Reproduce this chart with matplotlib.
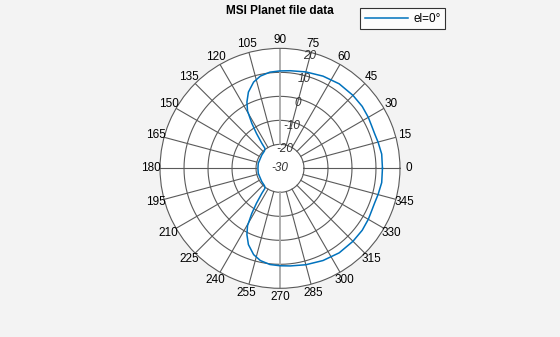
import numpy as np
import matplotlib
matplotlib.use("Agg")
import matplotlib.pyplot as plt

# pattern (dB vs azimuth, degrees)
azimuth_deg = [0, 8, 15, 20, 25, 30, 37, 45, 55, 65, 75, 84, 90, 96, 102, 107,
               112.5, 116.5, 119.5, 122, 124, 126, 127, 132, 144, 167, 180,
               193, 216, 228, 233, 234, 236, 238, 240.5, 243.5, 247.5, 253, 258, 264,
               270, 276, 285, 295, 305, 315, 323, 330, 335, 340, 345, 352, 360]
gain_db = [12.7, 12.8, 12.3, 12.0, 12.1, 12.5, 12.9, 13.0, 13.0, 12.4, 11.6, 10.9, 10.6, 10.3, 9.3, 7.6,
           4.4, 0.9, -2.5, -7.8, -12.5, -17.1, -19.6, -20.3, -20.6, -20.7, -20.8,
           -20.7, -20.6, -20.3, -19.6, -17.1, -12.5, -7.8, -2.5, 0.9, 4.4, 7.6, 9.3, 10.3,
           10.6, 10.9, 11.6, 12.4, 13.0, 13.0, 12.9, 12.5, 12.1, 12.0, 12.3, 12.8, 12.7]

r_min, r_max = -30, 20
ring_values = [-20, -10, 0, 10, 20]
ring_labels = ["-30", "-20", "-10", "0", "10", "20"]
angle_ticks = list(range(0, 360, 15))
legend_label = "el=0°"
title = "MSI Planet file data"

plt.rcParams["font.family"] = ["Liberation Sans", "DejaVu Sans"]

fig = plt.figure(figsize=(5.6, 3.37), dpi=100)
fig.patch.set_facecolor("#f3f3f3")
ax = fig.add_axes([0.2857, 0.1445, 0.4286, 0.712], projection="polar")
ax.set_facecolor("white")
ax.set_ylim(r_min, r_max)
ax.grid(False)
ax.set_xticks([])
ax.set_yticks([])
ax.spines["polar"].set_color("#5a5a5a")
ax.spines["polar"].set_linewidth(0.8)

full = np.linspace(0, 2 * np.pi, 361)
for v in ring_values[:-1]:
    ax.plot(full, np.full_like(full, v), color="#5a5a5a", lw=0.8, zorder=1)

for a in angle_ticks:
    th = np.deg2rad(a)
    if a in (90, 270):
        ax.plot([th, th], [ring_values[0], r_max], color="#a8a8a8", lw=1.3, zorder=1)
    else:
        ax.plot([th, th], [ring_values[0], r_max], color="#5a5a5a", lw=0.8, zorder=1)
    ax.text(th, 23.6, str(a), ha="center", va="center", fontsize=8.5, clip_on=False)

# magnitude labels along the 75 degree spoke
ax.text(0, r_min, ring_labels[0], ha="center", va="center", fontsize=8.5,
        style="italic", color="#333333")
for v, lab in zip(ring_values, ring_labels[1:]):
    ax.text(np.deg2rad(75), v - 1.6, lab, ha="center", va="center", fontsize=8.5,
            style="italic", color="#333333", zorder=3)

ax.plot(np.deg2rad(azimuth_deg), gain_db, color="#0072bd", lw=1.1, zorder=4,
        label=legend_label)

fig.text(0.5, 0.968, title, ha="center", va="center", fontsize=8.5, fontweight="bold")

leg = fig.legend(loc="upper left", bbox_to_anchor=(360 / 560, 1 - 8 / 337),
                 fontsize=8.5, frameon=True, fancybox=False, handlelength=3.7,
                 borderpad=0.4, handletextpad=0.4, borderaxespad=0)
leg.get_frame().set_edgecolor("black")
leg.get_frame().set_linewidth(0.8)

fig.savefig("out.png", dpi=100, facecolor=fig.get_facecolor())
